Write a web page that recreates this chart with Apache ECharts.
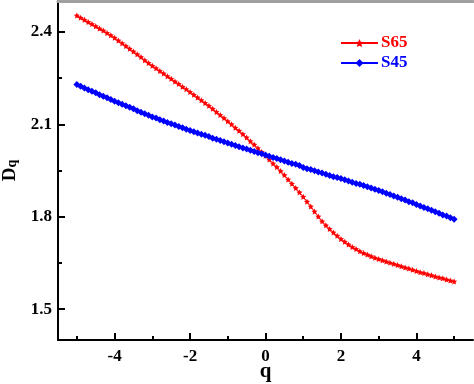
<!DOCTYPE html>
<html>
<head>
<meta charset="utf-8">
<script src="https://cdn.jsdelivr.net/npm/echarts@6/dist/echarts.min.js"></script>
<style>
html,body{margin:0;padding:0;background:#fff;}
#chart{width:474px;height:384px;}
</style>
</head>
<body>
<div id="chart"></div>
<script>
var q = [-5.0,-4.9,-4.8,-4.7,-4.6,-4.5,-4.4,-4.3,-4.2,-4.1,
  -4.0,-3.9,-3.8,-3.7,-3.6,-3.5,-3.4,-3.3,-3.2,-3.1,
  -3.0,-2.9,-2.8,-2.7,-2.6,-2.5,-2.4,-2.3,-2.2,-2.1,
  -2.0,-1.9,-1.8,-1.7,-1.6,-1.5,-1.4,-1.3,-1.2,-1.1,
  -1.0,-0.9,-0.8,-0.7,-0.6,-0.5,-0.4,-0.3,-0.2,-0.1,
  0.0,0.1,0.2,0.3,0.4,0.5,0.6,0.7,0.8,0.9,
  1.0,1.1,1.2,1.3,1.4,1.5,1.6,1.7,1.8,1.9,
  2.0,2.1,2.2,2.3,2.4,2.5,2.6,2.7,2.8,2.9,
  3.0,3.1,3.2,3.3,3.4,3.5,3.6,3.7,3.8,3.9,
  4.0,4.1,4.2,4.3,4.4,4.5,4.6,4.7,4.8,4.9,
  5.0];

var s65 = [2.453,2.446,2.439,2.432,2.425,2.418,2.411,2.404,2.396,2.389,
  2.381,2.372,2.363,2.354,2.345,2.336,2.327,2.318,2.308,2.299,
  2.290,2.282,2.273,2.265,2.256,2.248,2.239,2.231,2.222,2.214,
  2.205,2.196,2.187,2.178,2.169,2.160,2.150,2.140,2.130,2.120,
  2.110,2.100,2.089,2.079,2.068,2.057,2.045,2.034,2.022,2.010,
  1.998,1.986,1.973,1.961,1.948,1.935,1.921,1.907,1.893,1.879,
  1.865,1.849,1.833,1.817,1.801,1.785,1.772,1.760,1.749,1.738,
  1.728,1.719,1.710,1.702,1.695,1.688,1.682,1.677,1.672,1.667,
  1.663,1.659,1.655,1.651,1.647,1.643,1.639,1.635,1.632,1.628,
  1.624,1.620,1.617,1.613,1.610,1.606,1.603,1.600,1.596,1.593,
  1.590];

var s45 = [2.229,2.223,2.218,2.212,2.207,2.202,2.196,2.191,2.186,2.180,
  2.175,2.170,2.165,2.160,2.155,2.150,2.144,2.139,2.134,2.129,
  2.124,2.120,2.115,2.111,2.106,2.102,2.098,2.093,2.089,2.084,
  2.080,2.076,2.072,2.068,2.064,2.060,2.055,2.051,2.047,2.043,
  2.039,2.035,2.031,2.027,2.023,2.020,2.016,2.012,2.008,2.004,
  2.000,1.996,1.992,1.989,1.985,1.981,1.977,1.973,1.970,1.966,
  1.960,1.956,1.953,1.949,1.945,1.942,1.938,1.934,1.930,1.927,
  1.924,1.920,1.916,1.912,1.908,1.905,1.901,1.897,1.893,1.889,
  1.885,1.881,1.876,1.872,1.867,1.863,1.858,1.854,1.849,1.845,
  1.840,1.835,1.830,1.826,1.821,1.816,1.811,1.806,1.802,1.797,
  1.792];

var xMajor = [-4, -2, 0, 2, 4];
var xMinor = [-5, -3, -1, 1, 3, 5];
var yMajor = [1.5, 1.8, 2.1, 2.4];
var yMinor = [1.65, 1.95, 2.25];
var seriesNames = ['S65', 'S45'];

var FONT = 'Liberation Serif';
var star = 'path://M0,-10 L2.9,-4 9.5,-3.1 4.7,1.5 5.9,8.1 0,5 -5.9,8.1 -4.7,1.5 -9.5,-3.1 -2.9,-4 Z';

var chart = echarts.init(document.getElementById('chart'), null, {renderer: 'canvas'});
var labelStyle = {fontFamily: FONT, fontWeight: 'bold', fontSize: 17, color: '#000'};

chart.setOption({
  animation: false,
  backgroundColor: '#fff',
  grid: {left: 58, right: 1, top: 1, bottom: 44, containLabel: false, outerBoundsMode: 'none'},
  legend: {
    orient: 'vertical', left: 340, top: 33, padding: 0,
    itemWidth: 37, itemHeight: 10, itemGap: 0,
    textStyle: {fontFamily: FONT, fontWeight: 'bold', fontSize: 17, lineHeight: 20, padding: [0,0,0,-2]},
    data: [
      {name: seriesNames[0], textStyle: {color: '#ff0000'}},
      {name: seriesNames[1], textStyle: {color: '#0000ff'}}
    ]
  },
  xAxis: [
    {
      type: 'value', min: -5.5, max: 5.5, position: 'bottom',
      axisLine: {show: true, onZero: false, lineStyle: {color: '#000', width: 2}},
      axisTick: {show: true, inside: true, length: 7, customValues: xMajor, lineStyle: {color: '#000', width: 2}},
      axisLabel: Object.assign({customValues: xMajor, margin: 8}, labelStyle),
      splitLine: {show: false},
      name: 'q', nameLocation: 'middle', nameGap: 21, nameMoveOverlap: false,
      nameTextStyle: {fontFamily: FONT, fontWeight: 'bold', fontSize: 21, color: '#000'}
    },
    {
      type: 'value', min: -5.5, max: 5.5, position: 'bottom',
      axisLine: {show: false, onZero: false},
      axisTick: {show: true, inside: true, length: 4, customValues: xMinor, lineStyle: {color: '#000', width: 2}},
      axisLabel: {show: false}, splitLine: {show: false}
    },
    {
      type: 'value', min: -5.5, max: 5.5, position: 'top',
      axisLine: {show: true, onZero: false, lineStyle: {color: '#a0a0a0', width: 3}},
      axisTick: {show: false}, axisLabel: {show: false}, splitLine: {show: false}
    }
  ],
  yAxis: [
    {
      type: 'value', min: 1.4, max: 2.5, position: 'left',
      axisLine: {show: true, onZero: false, lineStyle: {color: '#000', width: 2}},
      axisTick: {show: true, inside: true, length: 7, customValues: yMajor, lineStyle: {color: '#000', width: 2}},
      axisLabel: Object.assign({customValues: yMajor, margin: 6, formatter: function (v) { return v.toFixed(1); }}, labelStyle),
      splitLine: {show: false},
      name: '{d|D}{s|q}', nameLocation: 'middle', nameGap: 38,
      nameTextStyle: {
        color: '#000',
        rich: {
          d: {fontFamily: FONT, fontWeight: 'bold', fontSize: 19, color: '#000', verticalAlign: 'bottom', lineHeight: 22},
          s: {fontFamily: FONT, fontWeight: 'bold', fontSize: 14, color: '#000', verticalAlign: 'bottom', lineHeight: 14, padding: [8, 0, 0, 0]}
        }
      }
    },
    {
      type: 'value', min: 1.4, max: 2.5, position: 'left',
      axisLine: {show: false, onZero: false},
      axisTick: {show: true, inside: true, length: 4, customValues: yMinor, lineStyle: {color: '#000', width: 2}},
      axisLabel: {show: false}, splitLine: {show: false}
    }
  ],
  series: [
    {
      name: seriesNames[0], type: 'line', xAxisIndex: 0, yAxisIndex: 0,
      data: q.map(function (x, i) { return [x, s65[i]]; }),
      symbol: star, symbolSize: 6, showAllSymbol: true,
      itemStyle: {color: '#ff0000'},
      lineStyle: {color: '#ff0000', width: 1}
    },
    {
      name: seriesNames[1], type: 'line', xAxisIndex: 0, yAxisIndex: 0,
      data: q.map(function (x, i) { return [x, s45[i]]; }),
      symbol: 'diamond', symbolSize: 7, showAllSymbol: true,
      itemStyle: {color: '#0000ff'},
      lineStyle: {color: '#0000ff', width: 1.5}
    }
  ]
});
</script>
</body>
</html>
